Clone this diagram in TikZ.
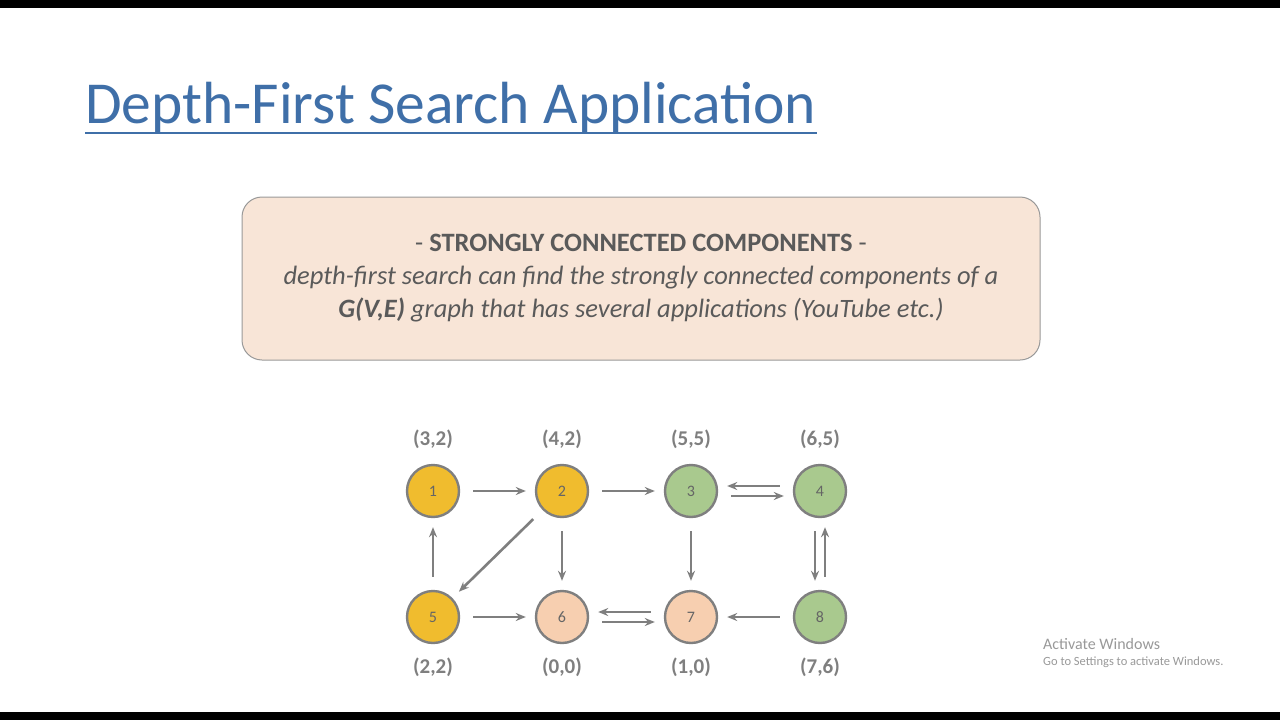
\documentclass[tikz,border=0pt]{standalone}
\usepackage{fontspec}
\setmainfont{Carlito}
\usetikzlibrary{arrows.meta}
\definecolor{titleblue}{HTML}{3F6FA8}
\definecolor{boxfill}{HTML}{F8E5D7}
\definecolor{ygold}{HTML}{F0BC2E}
\definecolor{ggreen}{HTML}{A9C98E}
\definecolor{peach}{HTML}{F7CFB0}
\definecolor{txtgray}{HTML}{5A5A5A}
\definecolor{arr}{HTML}{7F7F7F}
\begin{document}
\begin{tikzpicture}[x=1pt,y=-1pt,
  vtx/.style={circle,draw=arr,line width=2.4pt,minimum size=52pt,inner sep=0pt,font=\fontsize{16}{16}\selectfont,text=arr!80!black},
  lab/.style={font=\fontsize{21}{21}\selectfont\bfseries,text=arr},
  ed/.style={-{Stealth[length=10pt,width=8pt]},draw=arr,line width=2.6pt,shorten <=13pt,shorten >=9pt}]
\useasboundingbox (0,0) rectangle (1280,720);
\fill[white] (0,0) rectangle (1280,720);
\fill[black] (0,0) rectangle (1280,8);
\fill[black] (0,712) rectangle (1280,720);
\node[anchor=west,text=titleblue,font=\fontsize{59.5}{60}\selectfont,inner sep=0pt] (title) at (85,108) {Depth-First Search Application};
\draw[titleblue,line width=2pt] (85,133) -- (817,133);
\node[draw=arr!80,line width=1pt,fill=boxfill,rounded corners=20pt,minimum width=798pt,minimum height=163pt,align=center,text=txtgray,font=\fontsize{26.5}{33}\selectfont] (box) at (641,278.5)
 {- \textbf{STRONGLY CONNECTED COMPONENTS} -\\ \textit{depth-first search can find the strongly connected components of a}\\ \textit{\textbf{G(V,E)} graph that has several applications (YouTube etc.)}};
\node[vtx,fill=ygold] (n1) at (433,491) {1};
\node[vtx,fill=ygold] (n2) at (562,491) {2};
\node[vtx,fill=ggreen] (n3) at (691,491) {3};
\node[vtx,fill=ggreen] (n4) at (820,491) {4};
\node[vtx,fill=ygold] (n5) at (433,617) {5};
\node[vtx,fill=peach] (n6) at (562,617) {6};
\node[vtx,fill=peach] (n7) at (691,617) {7};
\node[vtx,fill=ggreen] (n8) at (820,617) {8};
\node[lab] (l1) at (433,439) {(3,2)};
\node[lab] (l2) at (562,439) {(4,2)};
\node[lab] (l3) at (691,439) {(5,5)};
\node[lab] (l4) at (820,439) {(6,5)};
\node[lab] (l5) at (433,667) {(2,2)};
\node[lab] (l6) at (562,667) {(0,0)};
\node[lab] (l7) at (691,667) {(1,0)};
\node[lab] (l8) at (820,667) {(7,6)};
\draw[ed] (n1) -- (n2);
\draw[ed] (n2) -- (n3);
\draw[ed] ([yshift=5pt]n4.west) -- ([yshift=5pt]n3.east);
\draw[ed] ([yshift=-5pt]n3.east) -- ([yshift=-5pt]n4.west);
\draw[ed] (n5) -- (n1);
\draw[ed] (n2) -- (n5);
\draw[ed] (n2) -- (n6);
\draw[ed] (n3) -- (n7);
\draw[ed] ([xshift=-5pt]n4.south) -- ([xshift=-5pt]n8.north);
\draw[ed] ([xshift=5pt]n8.north) -- ([xshift=5pt]n4.south);
\draw[ed] (n5) -- (n6);
\draw[ed] ([yshift=5pt]n7.west) -- ([yshift=5pt]n6.east);
\draw[ed] ([yshift=-5pt]n6.east) -- ([yshift=-5pt]n7.west);
\draw[ed] (n8) -- (n7);
\node[anchor=west,text=black!40,font=\fontsize{16}{16}\selectfont,inner sep=0pt] (aw) at (1043,644) {Activate Windows};
\node[anchor=west,text=black!40,font=\fontsize{12.5}{12}\selectfont,inner sep=0pt] (gs) at (1043,662) {Go to Settings to activate Windows.};
\end{tikzpicture}
\end{document}
